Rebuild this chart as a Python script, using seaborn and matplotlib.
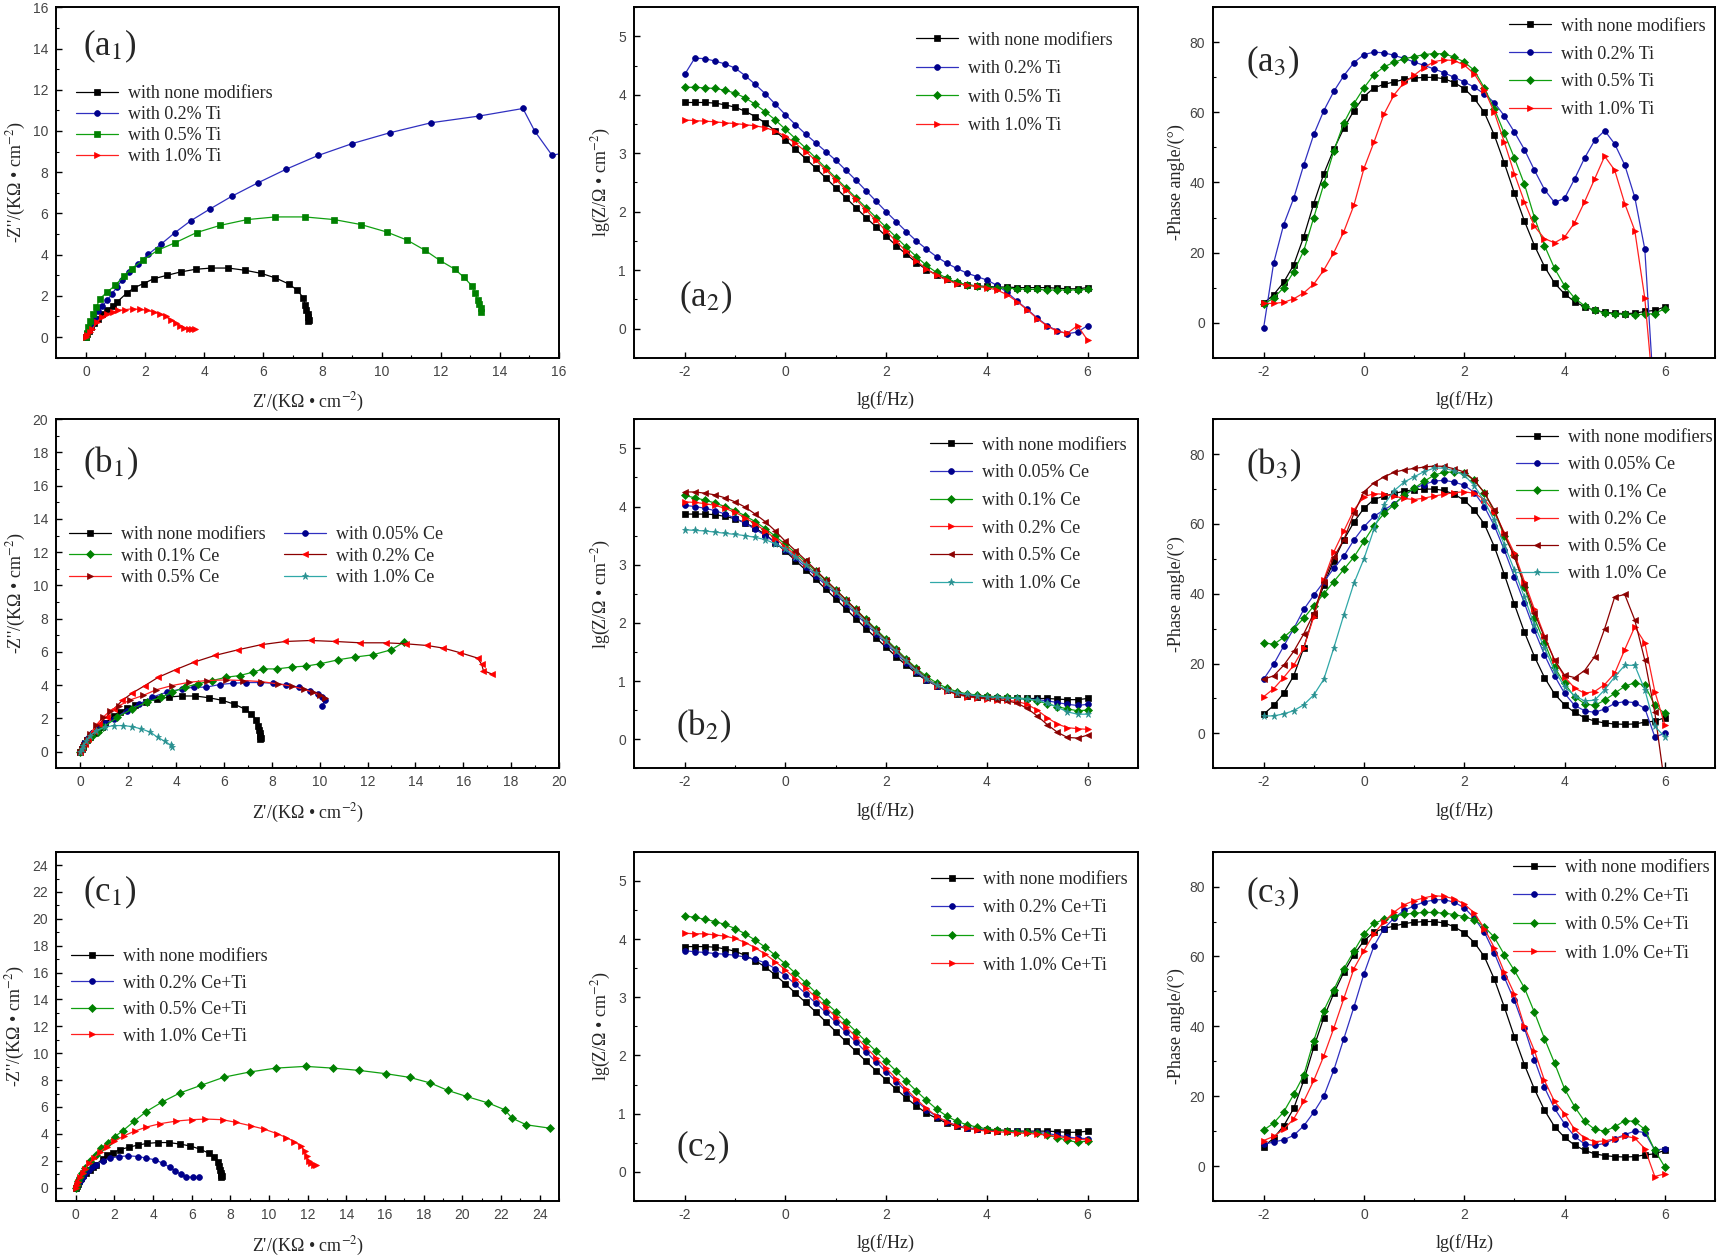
import matplotlib
matplotlib.use('Agg')
import matplotlib.pyplot as plt
import seaborn as sns
from matplotlib.ticker import MultipleLocator

sns.set_style('ticks')
plt.rcParams['font.family'] = ['Liberation Serif', 'DejaVu Serif']
plt.rcParams['mathtext.fontset'] = 'stix'
plt.rcParams['axes.unicode_minus'] = False

# ---------------- data ----------------
# log frequency grid of the Bode plots
LGF = [-2.0, -1.8, -1.6, -1.4, -1.2, -1.0, -0.8, -0.6, -0.4, -0.2,
       0.0, 0.2, 0.4, 0.6, 0.8, 1.0, 1.2, 1.4, 1.6, 1.8,
       2.0, 2.2, 2.4, 2.6, 2.8, 3.0, 3.2, 3.4, 3.6, 3.8,
       4.0, 4.2, 4.4, 4.6, 4.8, 5.0, 5.2, 5.4, 5.6, 5.8,
       6.0]

# lg|Z| values
BODE_NONE = [3.87, 3.87, 3.87, 3.86, 3.83, 3.79, 3.72, 3.63, 3.52, 3.38,
             3.23, 3.07, 2.91, 2.75, 2.58, 2.41, 2.24, 2.07, 1.90, 1.74,
             1.58, 1.42, 1.27, 1.13, 1.01, 0.92, 0.84, 0.78, 0.75, 0.73,
             0.72, 0.71, 0.71, 0.70, 0.70, 0.70, 0.70, 0.69, 0.68, 0.68,
             0.70]
BODE_TI02 = [4.35, 4.63, 4.62, 4.58, 4.53, 4.46, 4.33, 4.18, 4.02, 3.84,
             3.66, 3.49, 3.33, 3.18, 3.03, 2.88, 2.71, 2.54, 2.36, 2.18,
             2.00, 1.83, 1.66, 1.50, 1.36, 1.23, 1.12, 1.03, 0.95, 0.89,
             0.83, 0.74, 0.62, 0.47, 0.33, 0.18, 0.05, -0.04, -0.09, -0.06,
             0.05]
BODE_TI05 = [4.13, 4.13, 4.12, 4.11, 4.08, 4.03, 3.95, 3.84, 3.71, 3.57,
             3.41, 3.25, 3.09, 2.92, 2.75, 2.58, 2.41, 2.24, 2.07, 1.90,
             1.73, 1.56, 1.39, 1.23, 1.08, 0.96, 0.86, 0.79, 0.75, 0.72,
             0.71, 0.70, 0.69, 0.68, 0.67, 0.67, 0.66, 0.66, 0.66, 0.66,
             0.67]
BODE_TI10 = [3.57, 3.56, 3.55, 3.54, 3.52, 3.51, 3.49, 3.47, 3.44, 3.38,
             3.29, 3.17, 3.03, 2.88, 2.72, 2.55, 2.38, 2.21, 2.03, 1.85,
             1.67, 1.49, 1.32, 1.16, 1.02, 0.91, 0.83, 0.77, 0.74, 0.72,
             0.70, 0.66, 0.58, 0.46, 0.32, 0.17, 0.04, -0.05, -0.08, 0.05,
             -0.20]
BODE_CE005 = [4.02, 4.00, 3.97, 3.93, 3.87, 3.80, 3.71, 3.61, 3.50, 3.38,
              3.25, 3.11, 2.96, 2.81, 2.65, 2.49, 2.32, 2.15, 1.98, 1.81,
              1.64, 1.47, 1.31, 1.15, 1.02, 0.92, 0.84, 0.79, 0.76, 0.74,
              0.73, 0.72, 0.71, 0.70, 0.69, 0.68, 0.66, 0.63, 0.60, 0.58,
              0.60]
BODE_CE01 = [4.19, 4.15, 4.11, 4.06, 4.00, 3.93, 3.84, 3.74, 3.62, 3.49,
             3.35, 3.20, 3.05, 2.89, 2.73, 2.57, 2.40, 2.23, 2.06, 1.89,
             1.72, 1.55, 1.38, 1.22, 1.08, 0.97, 0.88, 0.82, 0.78, 0.76,
             0.74, 0.73, 0.72, 0.71, 0.69, 0.66, 0.61, 0.56, 0.52, 0.49,
             0.50]
BODE_CE02 = [4.08, 4.07, 4.05, 4.02, 3.97, 3.90, 3.81, 3.70, 3.58, 3.45,
             3.31, 3.16, 3.01, 2.85, 2.69, 2.53, 2.36, 2.19, 2.02, 1.85,
             1.68, 1.51, 1.34, 1.18, 1.04, 0.92, 0.83, 0.77, 0.73, 0.71,
             0.69, 0.68, 0.67, 0.65, 0.60, 0.50, 0.37, 0.26, 0.20, 0.18,
             0.17]
BODE_CE05 = [4.25, 4.25, 4.23, 4.20, 4.15, 4.08, 3.99, 3.87, 3.74, 3.58,
             3.40, 3.24, 3.08, 2.91, 2.74, 2.57, 2.40, 2.23, 2.05, 1.87,
             1.70, 1.53, 1.36, 1.20, 1.05, 0.93, 0.84, 0.78, 0.74, 0.72,
             0.70, 0.68, 0.66, 0.62, 0.53, 0.40, 0.25, 0.12, 0.03, 0.02,
             0.07]
BODE_CE10 = [3.60, 3.59, 3.58, 3.56, 3.54, 3.52, 3.50, 3.47, 3.43, 3.36,
             3.27, 3.14, 3.00, 2.85, 2.69, 2.53, 2.36, 2.19, 2.02, 1.85,
             1.68, 1.51, 1.34, 1.18, 1.04, 0.93, 0.85, 0.80, 0.77, 0.75,
             0.73, 0.72, 0.71, 0.70, 0.69, 0.67, 0.62, 0.55, 0.47, 0.43,
             0.43]
BODE_CT02 = [3.80, 3.78, 3.77, 3.75, 3.74, 3.72, 3.69, 3.65, 3.59, 3.49,
             3.37, 3.22, 3.06, 2.90, 2.74, 2.57, 2.40, 2.23, 2.06, 1.89,
             1.72, 1.55, 1.38, 1.22, 1.07, 0.95, 0.86, 0.80, 0.76, 0.74,
             0.73, 0.72, 0.71, 0.70, 0.69, 0.68, 0.66, 0.63, 0.60, 0.58,
             0.57]
BODE_CT05 = [4.40, 4.37, 4.34, 4.30, 4.25, 4.18, 4.09, 3.98, 3.86, 3.72,
             3.57, 3.41, 3.25, 3.08, 2.91, 2.75, 2.58, 2.41, 2.24, 2.07,
             1.90, 1.73, 1.56, 1.39, 1.23, 1.08, 0.96, 0.87, 0.81, 0.77,
             0.74, 0.72, 0.71, 0.69, 0.68, 0.66, 0.63, 0.59, 0.54, 0.51,
             0.53]
BODE_CT10 = [4.10, 4.09, 4.09, 4.07, 4.05, 4.01, 3.94, 3.85, 3.74, 3.61,
             3.47, 3.32, 3.16, 3.00, 2.83, 2.66, 2.49, 2.32, 2.14, 1.96,
             1.78, 1.60, 1.42, 1.25, 1.09, 0.96, 0.86, 0.79, 0.75, 0.72,
             0.70, 0.69, 0.68, 0.67, 0.66, 0.65, 0.63, 0.61, 0.58, 0.56,
             0.55]

# -phase angle values (deg)
PH_NONE = [5.5, 8.0, 11.5, 16.5, 24.5, 34.0, 42.5, 49.5, 55.5, 60.5,
           64.5, 67.0, 68.0, 68.7, 69.4, 69.8, 70.0, 70.0, 69.6, 68.5,
           66.8, 64.0, 60.0, 53.5, 45.5, 37.0, 29.0, 22.0, 16.0, 11.3,
           8.2, 6.0, 4.5, 3.5, 3.0, 2.7, 2.6, 2.7, 3.2, 3.5,
           4.5]
PH_TI02 = [-1.5, 17.0, 28.0, 35.5, 45.0, 53.7, 60.5, 66.0, 70.5, 74.2,
           76.5, 77.2, 77.0, 76.3, 75.4, 74.4, 73.4, 72.4, 71.3, 70.0,
           68.7, 67.2, 65.3, 62.8, 59.0, 54.4, 49.4, 43.5, 38.0, 34.3,
           35.5, 41.0, 47.0, 52.0, 54.8, 51.0, 45.0, 35.8, 21.0, -25.0,
           -45.0]
PH_TI05 = [5.3, 7.0, 10.0, 14.5, 20.5, 30.0, 39.5, 49.0, 57.0, 62.5,
           67.0, 70.8, 73.0, 74.3, 75.3, 75.9, 76.5, 76.8, 76.7, 75.8,
           74.4, 72.0, 67.0, 61.0, 54.0, 47.0, 39.5, 30.0, 22.0, 15.5,
           10.5, 7.0, 4.8, 3.5, 2.8, 2.5, 2.4, 2.3, 2.4, 2.6,
           4.0]
PH_TI10 = [5.5, 5.5, 5.8, 6.8, 8.5, 11.0, 15.0, 20.0, 26.0, 33.5,
           44.0, 51.5, 59.5, 65.0, 68.5, 70.6, 72.8, 74.5, 75.0, 74.8,
           73.5, 71.0, 66.5, 60.0, 51.5, 42.5, 34.5, 27.5, 24.0, 22.8,
           24.4, 28.5, 34.5, 41.0, 47.5, 43.5, 34.0, 26.3, 7.0, -25.0,
           -45.0]
PH_CE005 = [15.5, 19.8, 25.0, 30.0, 35.5, 39.6, 43.4, 47.3, 50.8, 55.4,
            59.2, 62.2, 64.0, 65.8, 68.0, 70.2, 71.3, 72.3, 72.5, 72.0,
            71.1, 69.0, 65.0, 59.5, 52.5, 44.9, 37.3, 29.5, 22.5, 16.5,
            11.5, 8.0, 6.5, 6.0, 7.0, 8.6, 9.1, 8.8, 7.2, -1.0,
            0.0]
PH_CE01 = [26.0, 25.5, 27.5, 30.0, 33.0, 36.5, 40.0, 43.5, 47.0, 50.5,
           55.0, 59.5, 63.0, 65.5, 68.3, 70.2, 72.2, 74.0, 74.8, 74.9,
           74.5, 72.5, 69.0, 63.5, 56.5, 51.0, 42.0, 33.0, 26.0, 19.0,
           14.3, 10.5, 8.5, 8.0, 9.5, 11.5, 13.5, 14.5, 13.8, 8.0,
           5.7]
PH_CE02 = [10.5, 12.8, 16.0, 19.5, 24.5, 33.4, 44.0, 52.0, 58.0, 64.0,
           67.8, 68.7, 68.5, 68.0, 67.3, 67.0, 67.4, 68.0, 68.5, 69.0,
           69.2, 68.8, 67.0, 63.5, 57.5, 51.6, 43.5, 35.5, 28.0, 21.0,
           16.2, 13.0, 11.5, 12.0, 14.0, 17.2, 24.0, 30.5, 26.0, 12.0,
           2.4]
PH_CE05 = [15.5, 16.5, 19.5, 23.5, 28.5, 34.4, 43.5, 50.5, 55.5, 63.0,
           69.2, 71.8, 73.5, 74.8, 75.5, 75.9, 76.3, 76.6, 76.5, 75.8,
           74.9, 72.5, 69.0, 64.0, 57.0, 50.6, 42.5, 34.5, 27.5, 21.0,
           16.7, 16.0, 18.0, 22.0, 30.0, 39.1, 39.8, 32.5, 21.0, 6.0,
           -15.0]
PH_CE10 = [5.0, 5.0, 5.6, 6.5, 8.2, 11.0, 15.5, 24.5, 34.0, 43.0,
           50.0, 58.5, 65.5, 69.5, 72.0, 73.5, 75.0, 76.0, 76.0, 75.2,
           74.0, 71.0, 66.5, 61.0, 54.0, 46.8, 39.0, 31.0, 24.5, 18.0,
           13.4, 10.8, 9.3, 9.5, 12.5, 16.2, 19.5, 19.5, 12.5, 2.0,
           -1.0]
PH_CT02 = [6.2, 6.9, 7.5, 8.8, 11.5, 15.4, 20.0, 27.5, 36.5, 45.5,
           55.0, 63.0, 68.0, 71.0, 73.2, 74.5, 75.6, 76.2, 76.3, 75.5,
           74.0, 71.0, 67.0, 61.0, 54.0, 47.4, 39.5, 30.5, 22.5, 16.5,
           12.1, 8.5, 6.3, 5.9, 6.5, 7.8, 9.0, 10.0, 9.6, 4.5,
           5.0]
PH_CT05 = [10.3, 12.3, 15.5, 20.5, 26.0, 35.9, 44.5, 50.5, 56.5, 61.5,
           66.4, 69.5, 70.6, 71.5, 72.1, 72.4, 72.6, 72.6, 72.4, 72.0,
           71.4, 70.5, 68.5, 65.5, 60.5, 56.0, 51.0, 44.0, 36.5, 29.5,
           22.1, 17.0, 12.8, 10.5, 10.0, 11.2, 13.0, 12.8, 10.5, 4.5,
           -0.3]
PH_CT10 = [7.3, 8.5, 10.5, 13.5, 18.5, 24.5, 31.5, 39.5, 48.0, 56.5,
           61.7, 66.5, 70.0, 72.7, 74.8, 76.0, 76.8, 77.4, 77.2, 76.5,
           75.0, 72.5, 68.0, 62.5, 55.5, 49.3, 40.0, 33.0, 24.5, 18.5,
           15.0, 10.5, 8.0, 7.0, 7.2, 7.8, 8.6, 8.0, 5.0, -3.0,
           -2.2]

# Nyquist points: Z' and -Z'' in kOhm cm2
NQ_NONE_X = [0.0, 0.05, 0.1, 0.18, 0.28, 0.4, 0.55, 0.72, 0.9, 1.05, 1.39, 1.64,
             1.95, 2.29, 2.75, 3.2, 3.71, 4.24, 4.81, 5.39, 5.93, 6.41, 6.87, 7.15,
             7.35, 7.41, 7.45, 7.5, 7.52, 7.55, 7.5]
NQ_NONE_Y = [0.0, 0.15, 0.3, 0.5, 0.7, 0.9, 1.1, 1.3, 1.5, 1.7, 2.15, 2.4,
             2.6, 2.83, 3.0, 3.16, 3.29, 3.35, 3.35, 3.24, 3.09, 2.87, 2.57, 2.27,
             1.91, 1.57, 1.3, 1.1, 0.97, 0.85, 0.78]
NQ_TI02_X = [0.0, 0.05, 0.12, 0.2, 0.3, 0.42, 0.55, 0.72, 0.88, 1.05, 1.21, 1.45,
             1.76, 2.11, 2.53, 3.01, 3.54, 4.2, 4.93, 5.81, 6.78, 7.85, 9.01, 10.27,
             11.68, 13.28, 14.78, 15.18, 15.77, 16.6]
NQ_TI02_Y = [0.0, 0.2, 0.45, 0.7, 0.95, 1.25, 1.5, 1.78, 2.1, 2.43, 2.75, 3.16,
             3.56, 4.02, 4.5, 5.07, 5.64, 6.22, 6.83, 7.48, 8.15, 8.81, 9.39, 9.91,
             10.4, 10.72, 11.09, 9.99, 8.81, 9.1]
NQ_TI05_X = [0.0, 0.03, 0.08, 0.15, 0.24, 0.35, 0.47, 0.72, 0.99, 1.27, 1.54, 1.92,
             2.42, 3.02, 3.74, 4.54, 5.45, 6.41, 7.4, 8.4, 9.3, 10.17, 10.87, 11.47,
             11.97, 12.47, 12.77, 13.06, 13.17, 13.25, 13.28, 13.36, 13.36]
NQ_TI05_Y = [0.0, 0.2, 0.5, 0.8, 1.1, 1.45, 1.86, 2.19, 2.51, 2.95, 3.32, 3.72,
             4.21, 4.58, 5.07, 5.42, 5.7, 5.83, 5.83, 5.7, 5.46, 5.1, 4.7, 4.21,
             3.72, 3.3, 2.92, 2.48, 2.14, 1.78, 1.62, 1.43, 1.21]
NQ_TI10_X = [0.0, 0.05, 0.12, 0.22, 0.37, 0.53, 0.72, 0.9, 1.08, 1.33, 1.58, 1.82,
             2.07, 2.29, 2.5, 2.69, 2.87, 3.03, 3.18, 3.33, 3.49, 3.6, 3.7]
NQ_TI10_Y = [0.0, 0.1, 0.25, 0.4, 0.73, 0.97, 1.13, 1.21, 1.3, 1.33, 1.38, 1.34,
             1.3, 1.21, 1.13, 1.0, 0.84, 0.68, 0.52, 0.44, 0.39, 0.38, 0.39]
NQ_CE005_X = [0.0, 0.05, 0.15, 0.3, 0.5, 0.75, 1.05, 1.4, 1.94, 2.47, 3.0, 3.61,
              4.25, 4.76, 5.26, 5.82, 6.39, 6.94, 7.5, 8.03, 8.6, 9.13, 9.6, 9.94,
              10.09, 10.24, 10.1]
NQ_CE005_Y = [0.0, 0.2, 0.5, 0.8, 1.1, 1.4, 1.7, 1.97, 2.47, 2.87, 3.28, 3.58,
              3.78, 3.88, 3.88, 4.04, 4.12, 4.16, 4.16, 4.12, 4.02, 3.88, 3.68, 3.48,
              3.28, 3.08, 2.77]
NQ_CE01_X = [0.0, 0.05, 0.15, 0.3, 0.5, 0.72, 0.95, 1.55, 2.16, 2.77, 3.38, 3.84,
             4.37, 4.91, 5.52, 6.1, 6.66, 7.2, 7.65, 8.22, 8.83, 9.44, 10.02, 10.78,
             11.46, 12.23, 12.99, 13.52]
NQ_CE01_Y = [0.0, 0.15, 0.4, 0.7, 0.95, 1.2, 1.47, 2.07, 2.57, 2.97, 3.28, 3.58,
             3.88, 4.08, 4.28, 4.48, 4.58, 4.78, 4.98, 4.98, 5.09, 5.15, 5.29, 5.53,
             5.69, 5.83, 6.13, 6.59]
NQ_CE02_X = [0.0, 0.08, 0.18, 0.34, 0.56, 0.79, 1.1, 1.4, 1.75, 2.16, 2.7, 3.26,
             3.99, 4.76, 5.62, 6.59, 7.53, 8.57, 9.63, 10.66, 11.69, 12.76, 13.6, 14.48,
             15.17, 15.88, 16.6, 16.77, 16.84, 17.18]
NQ_CE02_Y = [0.0, 0.2, 0.45, 0.76, 1.27, 1.67, 2.11, 2.57, 3.08, 3.52, 3.98, 4.48,
             4.94, 5.39, 5.79, 6.13, 6.43, 6.63, 6.69, 6.63, 6.55, 6.55, 6.49, 6.39,
             6.23, 5.95, 5.63, 5.25, 4.88, 4.68]
NQ_CE05_X = [0.0, 0.06, 0.15, 0.26, 0.41, 0.67, 0.95, 1.25, 1.63, 2.09, 2.62, 3.16,
             3.84, 4.56, 5.29, 6.08, 6.81, 7.53, 8.26, 8.83, 9.33, 9.71, 10.02, 10.24]
NQ_CE05_Y = [0.0, 0.18, 0.42, 0.72, 1.07, 1.61, 2.07, 2.47, 2.77, 3.12, 3.38, 3.72,
             3.98, 4.18, 4.28, 4.32, 4.28, 4.22, 4.08, 3.94, 3.76, 3.58, 3.38, 3.24]
NQ_CE10_X = [0.0, 0.05, 0.12, 0.25, 0.41, 0.67, 1.02, 1.4, 1.78, 2.16, 2.55, 2.93,
             3.23, 3.54, 3.77, 3.84]
NQ_CE10_Y = [0.0, 0.15, 0.35, 0.65, 0.96, 1.27, 1.47, 1.57, 1.57, 1.51, 1.37, 1.17,
             0.86, 0.62, 0.4, 0.3]
NQ_CT02_X = [0.0, 0.06, 0.15, 0.25, 0.37, 0.5, 0.66, 0.85, 1.03, 1.4, 1.78, 2.25,
             2.72, 3.24, 3.65, 4.12, 4.49, 4.87, 5.15, 5.43, 5.71, 6.05, 6.37]
NQ_CT02_Y = [0.0, 0.15, 0.35, 0.58, 0.82, 1.08, 1.32, 1.52, 1.69, 2.01, 2.19, 2.31,
             2.36, 2.31, 2.19, 2.06, 1.81, 1.52, 1.24, 0.99, 0.82, 0.75, 0.75]
NQ_CT05_X = [0.0, 0.05, 0.12, 0.22, 0.33, 0.47, 0.75, 1.03, 1.31, 1.65, 2.02, 2.43,
             3.01, 3.65, 4.46, 5.37, 6.46, 7.68, 8.99, 10.34, 11.89, 13.3, 14.66, 16.07,
             17.28, 18.35, 19.25, 20.22, 21.35, 22.19, 22.57, 23.31, 24.53]
NQ_CT05_Y = [0.0, 0.2, 0.5, 0.8, 1.1, 1.44, 1.94, 2.43, 2.93, 3.35, 3.8, 4.22,
             4.92, 5.66, 6.36, 7.03, 7.6, 8.22, 8.6, 8.89, 9.02, 8.89, 8.72, 8.47,
             8.2, 7.78, 7.23, 6.78, 6.29, 5.79, 5.17, 4.67, 4.42]
NQ_CT10_X = [0.0, 0.05, 0.12, 0.22, 0.35, 0.5, 0.7, 0.95, 1.25, 1.6, 2.0, 2.5,
             3.05, 3.65, 4.35, 5.2, 6.0, 6.7, 7.6, 8.3, 9.05, 9.75, 10.4, 10.9,
             11.3, 11.65, 11.85, 11.95, 12.05, 12.15, 12.3, 12.45]
NQ_CT10_Y = [0.0, 0.2, 0.45, 0.75, 1.05, 1.4, 1.8, 2.2, 2.65, 3.05, 3.45, 3.85,
             4.2, 4.5, 4.75, 4.95, 5.05, 5.1, 5.05, 4.85, 4.6, 4.35, 4.02, 3.72,
             3.42, 3.1, 2.7, 2.35, 2.0, 1.8, 1.7, 1.65]

# ---------------- styles ----------------
BLACK = ('black', 'black')
BLUE = ('#3030c0', '#00008b')
GREEN = ('#10a010', '#008000')
RED = ('#ff2020', '#ff0000')
DRED = ('#8b0000', '#8b0000')
TEAL = ('#30a8a8', '#2a9090')

TICK_FONT = ['Liberation Sans Narrow', 'Liberation Sans', 'DejaVu Sans']
NYQ_X = "Z'/(KΩ • cm$^{-2}$)"
NYQ_Y = "-Z''/(KΩ • cm$^{-2}$)"
BODE_Y = "lg(Z/Ω • cm$^{-2}$)"
PH_Y = "-Phase angle/(°)"
F_X = "lg(f/Hz)"

COL_L = [0.0328, 0.3688, 0.7055]
COL_W = [0.2922, 0.2928, 0.2916]
ROW_B = [0.7152, 0.3883, 0.0438]
ROW_H = [0.2790, 0.2779, 0.2781]


def draw(ax, x, y, label, colors, marker, ms=4.2):
    sns.lineplot(x=x, y=y, ax=ax, sort=False, estimator=None,
                 color=colors[0], linewidth=0.9, marker=marker, markersize=ms,
                 markerfacecolor=colors[1], markeredgecolor=colors[1],
                 markeredgewidth=0.5, label=label, legend=False)


def style_axes(ax, xlim, ylim, xmaj, ymaj, xlabel, ylabel):
    ax.set_xlim(*xlim)
    ax.set_ylim(*ylim)
    ax.xaxis.set_major_locator(MultipleLocator(xmaj))
    ax.xaxis.set_minor_locator(MultipleLocator(xmaj / 2))
    ax.yaxis.set_major_locator(MultipleLocator(ymaj))
    ax.yaxis.set_minor_locator(MultipleLocator(ymaj / 2))
    ax.tick_params(which='both', direction='in', top=False, right=False,
                   colors='black', labelcolor='#444444', labelsize=10)
    ax.tick_params(which='major', length=4.5, width=1.0)
    ax.tick_params(which='minor', length=2.5, width=0.8)
    ax.tick_params(axis='x', pad=5)
    ax.tick_params(axis='y', pad=6)
    for sp in ax.spines.values():
        sp.set_linewidth(1.4)
        sp.set_color('black')
    ax.set_xlabel(xlabel, fontsize=13, labelpad=9)
    ax.set_ylabel(ylabel, fontsize=13, labelpad=3.5)
    for lab in ax.get_xticklabels() + ax.get_yticklabels():
        lab.set_family(TICK_FONT)


def add_legend(ax, x, y, spacing, ncol=1, order=None):
    handles, labels = ax.get_legend_handles_labels()
    if order is not None:
        handles = [handles[i] for i in order]
        labels = [labels[i] for i in order]
    ax.legend(handles, labels, loc='upper left', bbox_to_anchor=(x, y),
              frameon=False, fontsize=13, handlelength=2.35,
              handletextpad=0.55, labelspacing=spacing, borderpad=0,
              borderaxespad=0, ncol=ncol, columnspacing=1.0, numpoints=1)


def tag(ax, x, y, letter, num):
    ax.text(x, y, '(%s$_{%d}$)' % (letter, num), transform=ax.transAxes,
            ha='left', va='center', fontsize=25)


fig = plt.figure(figsize=(17.2, 12.56), dpi=100)
axes = [[fig.add_axes([COL_L[c], ROW_B[r], COL_W[c], ROW_H[r]]) for c in range(3)]
        for r in range(3)]

# ----- row a: Ti -----
ax = axes[0][0]
draw(ax, NQ_NONE_X, NQ_NONE_Y, 'with none modifiers', BLACK, 's')
draw(ax, NQ_TI02_X, NQ_TI02_Y, 'with 0.2% Ti', BLUE, 'o')
draw(ax, NQ_TI05_X, NQ_TI05_Y, 'with 0.5% Ti', GREEN, 's')
draw(ax, NQ_TI10_X, NQ_TI10_Y, 'with 1.0% Ti', RED, '>')
style_axes(ax, (-1, 16), (-1, 16), 2, 2, NYQ_X, NYQ_Y)
add_legend(ax, 0.039, 0.777, 0.22)
tag(ax, 0.053, 0.89, 'a', 1)

ax = axes[0][1]
draw(ax, LGF, BODE_NONE, 'with none modifiers', BLACK, 's')
draw(ax, LGF, BODE_TI02, 'with 0.2% Ti', BLUE, 'o')
draw(ax, LGF, BODE_TI05, 'with 0.5% Ti', GREEN, 'D', 3.6)
draw(ax, LGF, BODE_TI10, 'with 1.0% Ti', RED, '>')
style_axes(ax, (-3, 7), (-0.5, 5.5), 2, 1, F_X, BODE_Y)
add_legend(ax, 0.559, 0.93, 0.63)
tag(ax, 0.089, 0.172, 'a', 2)

ax = axes[0][2]
draw(ax, LGF, PH_NONE, 'with none modifiers', BLACK, 's')
draw(ax, LGF, PH_TI02, 'with 0.2% Ti', BLUE, 'o')
draw(ax, LGF, PH_TI05, 'with 0.5% Ti', GREEN, 'D', 3.6)
draw(ax, LGF, PH_TI10, 'with 1.0% Ti', RED, '>')
style_axes(ax, (-3, 7), (-10, 90), 2, 20, F_X, PH_Y)
add_legend(ax, 0.589, 0.97, 0.60)
tag(ax, 0.065, 0.844, 'a', 3)

# ----- row b: Ce -----
ax = axes[1][0]
draw(ax, NQ_NONE_X, NQ_NONE_Y, 'with none modifiers', BLACK, 's')
draw(ax, NQ_CE005_X, NQ_CE005_Y, 'with 0.05% Ce', BLUE, 'o')
draw(ax, NQ_CE01_X, NQ_CE01_Y, 'with 0.1% Ce', GREEN, 'D', 3.6)
draw(ax, NQ_CE02_X, NQ_CE02_Y, 'with 0.2% Ce', (DRED[0], RED[1]), '<')
draw(ax, NQ_CE05_X, NQ_CE05_Y, 'with 0.5% Ce', (RED[0], DRED[1]), '>')
draw(ax, NQ_CE10_X, NQ_CE10_Y, 'with 1.0% Ce', TEAL, '*', 5.2)
style_axes(ax, (-1, 20), (-1, 20), 2, 2, NYQ_X, NYQ_Y)
add_legend(ax, 0.025, 0.694, 0.26, ncol=2, order=[0, 2, 4, 1, 3, 5])
tag(ax, 0.053, 0.875, 'b', 1)

ax = axes[1][1]
draw(ax, LGF, BODE_NONE, 'with none modifiers', BLACK, 's')
draw(ax, LGF, BODE_CE005, 'with 0.05% Ce', BLUE, 'o')
draw(ax, LGF, BODE_CE01, 'with 0.1% Ce', GREEN, 'D', 3.6)
draw(ax, LGF, BODE_CE02, 'with 0.2% Ce', RED, '>')
draw(ax, LGF, BODE_CE05, 'with 0.5% Ce', DRED, '<')
draw(ax, LGF, BODE_CE10, 'with 1.0% Ce', TEAL, '*', 5.2)
style_axes(ax, (-3, 7), (-0.5, 5.5), 2, 1, F_X, BODE_Y)
add_legend(ax, 0.587, 0.95, 0.59)
tag(ax, 0.082, 0.12, 'b', 2)

ax = axes[1][2]
draw(ax, LGF, PH_NONE, 'with none modifiers', BLACK, 's')
draw(ax, LGF, PH_CE005, 'with 0.05% Ce', BLUE, 'o')
draw(ax, LGF, PH_CE01, 'with 0.1% Ce', GREEN, 'D', 3.6)
draw(ax, LGF, PH_CE02, 'with 0.2% Ce', RED, '>')
draw(ax, LGF, PH_CE05, 'with 0.5% Ce', DRED, '<')
draw(ax, LGF, PH_CE10, 'with 1.0% Ce', TEAL, '*', 5.2)
style_axes(ax, (-3, 7), (-10, 90), 2, 20, F_X, PH_Y)
add_legend(ax, 0.603, 0.972, 0.57)
tag(ax, 0.065, 0.869, 'b', 3)

# ----- row c: Ce+Ti -----
ax = axes[2][0]
draw(ax, NQ_NONE_X, NQ_NONE_Y, 'with none modifiers', BLACK, 's')
draw(ax, NQ_CT02_X, NQ_CT02_Y, 'with 0.2% Ce+Ti', BLUE, 'o')
draw(ax, NQ_CT05_X, NQ_CT05_Y, 'with 0.5% Ce+Ti', GREEN, 'D', 3.6)
draw(ax, NQ_CT10_X, NQ_CT10_Y, 'with 1.0% Ce+Ti', RED, '>')
style_axes(ax, (-1, 25), (-1, 25), 2, 2, NYQ_X, NYQ_Y)
add_legend(ax, 0.029, 0.724, 0.53)
tag(ax, 0.053, 0.885, 'c', 1)

ax = axes[2][1]
draw(ax, LGF, BODE_NONE, 'with none modifiers', BLACK, 's')
draw(ax, LGF, BODE_CT02, 'with 0.2% Ce+Ti', BLUE, 'o')
draw(ax, LGF, BODE_CT05, 'with 0.5% Ce+Ti', GREEN, 'D', 3.6)
draw(ax, LGF, BODE_CT10, 'with 1.0% Ce+Ti', RED, '>')
style_axes(ax, (-3, 7), (-0.5, 5.5), 2, 1, F_X, BODE_Y)
add_legend(ax, 0.589, 0.945, 0.64)
tag(ax, 0.082, 0.155, 'c', 2)

ax = axes[2][2]
draw(ax, LGF, PH_NONE, 'with none modifiers', BLACK, 's')
draw(ax, LGF, PH_CT02, 'with 0.2% Ce+Ti', BLUE, 'o')
draw(ax, LGF, PH_CT05, 'with 0.5% Ce+Ti', GREEN, 'D', 3.6)
draw(ax, LGF, PH_CT10, 'with 1.0% Ce+Ti', RED, '>')
style_axes(ax, (-3, 7), (-10, 90), 2, 20, F_X, PH_Y)
add_legend(ax, 0.597, 0.979, 0.64)
tag(ax, 0.065, 0.882, 'c', 3)

fig.savefig('out.png', dpi=100)
